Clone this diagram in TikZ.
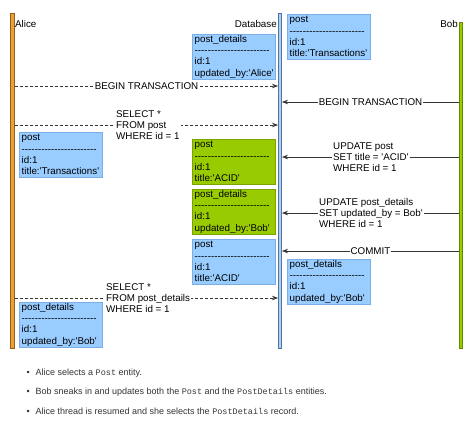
\documentclass[tikz,border=0pt]{standalone}
\usepackage{fontspec}
\setmainfont{Liberation Sans}
\setmonofont{Liberation Mono}
\usetikzlibrary{arrows.meta,positioning}
\definecolor{BoxBlue}{HTML}{99CCFF}
\definecolor{BoxBlueLine}{HTML}{7AAEE6}
\definecolor{BoxGreen}{HTML}{99CC00}
\definecolor{BoxGreenLine}{HTML}{7AA300}
\definecolor{AliceOrange}{HTML}{E8A13A}
\definecolor{AliceEdge}{HTML}{9A5B12}
\definecolor{DbBlue}{HTML}{B4CFEE}
\definecolor{DbEdge}{HTML}{4C74A6}
\definecolor{BobGreen}{HTML}{99CC00}
\definecolor{BobEdge}{HTML}{668800}
\definecolor{Ink}{HTML}{333333}
\newcommand{\hy}{-\kern0pt}
\newcommand{\sepline}{\mbox{\hy\hy\hy\hy\hy\hy\hy\hy\hy\hy\hy\hy\hy\hy\hy\hy\hy\hy\hy\hy\hy\hy\hy}}
\newcommand{\q}{\textquotesingle}
\newcommand{\record}[2]{#1\\\sepline\\id:1\\#2}
\newcommand{\code}[1]{{\fontsize{8.5}{10}\selectfont\ttfamily #1}}

\begin{document}
\begin{tikzpicture}[x=1pt,y=-1pt,>={Stealth[length=6pt,width=4.5pt]},font=\fontsize{9.8}{11.3}\selectfont,
    rec/.style={draw=BoxBlueLine,fill=BoxBlue,anchor=north west,minimum width=83pt,minimum height=45pt,text width=78pt,inner xsep=2.5pt,inner ysep=1pt,align=left},
    upd/.style={rec,draw=BoxGreenLine,fill=BoxGreen},
    life/.style={line width=0.6pt,minimum width=3.5pt,inner sep=0pt,anchor=north},
    msg/.style={->,line width=0.7pt,draw=black!80},
    wait/.style={msg,dash pattern=on 3pt off 2pt},
    say/.style={fill=white,inner sep=1pt,align=left},
    note/.style={anchor=west,text=Ink,font=\fontsize{9}{10}\selectfont}]
    \useasboundingbox (0,0) rectangle (474,428);
    % lifelines
    \node[life,draw=AliceEdge,fill=AliceOrange,minimum height=335pt] (alice) at (12.5,13) {};
    \node[life,draw=DbEdge,fill=DbBlue,minimum height=335pt] (db) at (280,13) {};
    \node[life,draw=BobEdge,fill=BobGreen,minimum height=326pt] (bob) at (461,22) {};
    \node[anchor=west,inner sep=0pt] (aliceName) at (15,24) {Alice};
    \node[anchor=east,inner sep=0pt] (dbName) at (277,24) {Database};
    \node[anchor=east,inner sep=0pt] (bobName) at (458,24) {Bob};
    % records
    \node[rec] (pdAlice) at (192,34) {\record{post\_details}{updated\_by:\q Alice\q}};
    \node[rec] (postDb) at (287,14) {\record{post}{title:\q Transactions\q}};
    \node[rec] (postAlice) at (19,132) {\record{post}{title:\q Transactions\q}};
    \node[upd] (postBob) at (192,139) {\record{post}{title:\q ACID\q}};
    \node[upd] (pdBob) at (192,189) {\record{post\_details}{updated\_by:\q Bob\q}};
    \node[rec] (postDone) at (192,239) {\record{post}{title:\q ACID\q}};
    \node[rec] (pdDb) at (287,259) {\record{post\_details}{updated\_by:\q Bob\q}};
    \node[rec] (pdAlice2) at (19,302) {\record{post\_details}{updated\_by:\q Bob\q}};
    % messages
    \coordinate (a1) at (15,86); \coordinate (d1) at (278,86);
    \coordinate (b1) at (459,102); \coordinate (d2) at (282,102);
    \coordinate (a2) at (15,125); \coordinate (d3) at (278,125);
    \coordinate (b2) at (459,157); \coordinate (d4) at (282,157);
    \coordinate (b3) at (459,213); \coordinate (d5) at (282,213);
    \coordinate (b4) at (459,251); \coordinate (d6) at (282,251);
    \coordinate (a3) at (15,298); \coordinate (d7) at (278,298);
    \draw[wait] (a1)--node[say]{BEGIN TRANSACTION}(d1);
    \draw[msg] (b1)--node[say]{BEGIN TRANSACTION}(d2);
    \draw[wait] (a2)--(d3);
    \node[say,anchor=west] (selPost) at (115,125) {SELECT *\\FROM post\\WHERE id = 1};
    \draw[msg] (b2)--(d4);
    \node[say,anchor=west] (updPost) at (332,157) {UPDATE post\\SET title = \q ACID\q\\WHERE id = 1};
    \draw[msg] (b3)--(d5);
    \node[say,anchor=west] (updPd) at (318,213) {UPDATE post\_details\\SET updated\_by = Bob\q\\WHERE id = 1};
    \draw[msg] (b4)--node[say]{COMMIT}(d6);
    \draw[wait] (a3)--(d7);
    \node[say,anchor=west] (selPd) at (105,298) {SELECT *\\FROM post\_details\\WHERE id = 1};
    % notes
    \node[note] (n1) at (23,373) {\textbullet\hspace{6pt}Alice selects a \code{Post} entity.};
    \node[note] (n2) at (23,392) {\textbullet\hspace{6pt}Bob sneaks in and updates both the \code{Post} and the \code{PostDetails} entities.};
    \node[note] (n3) at (23,411) {\textbullet\hspace{6pt}Alice thread is resumed and she selects the \code{PostDetails} record.};
\end{tikzpicture}
\end{document}
